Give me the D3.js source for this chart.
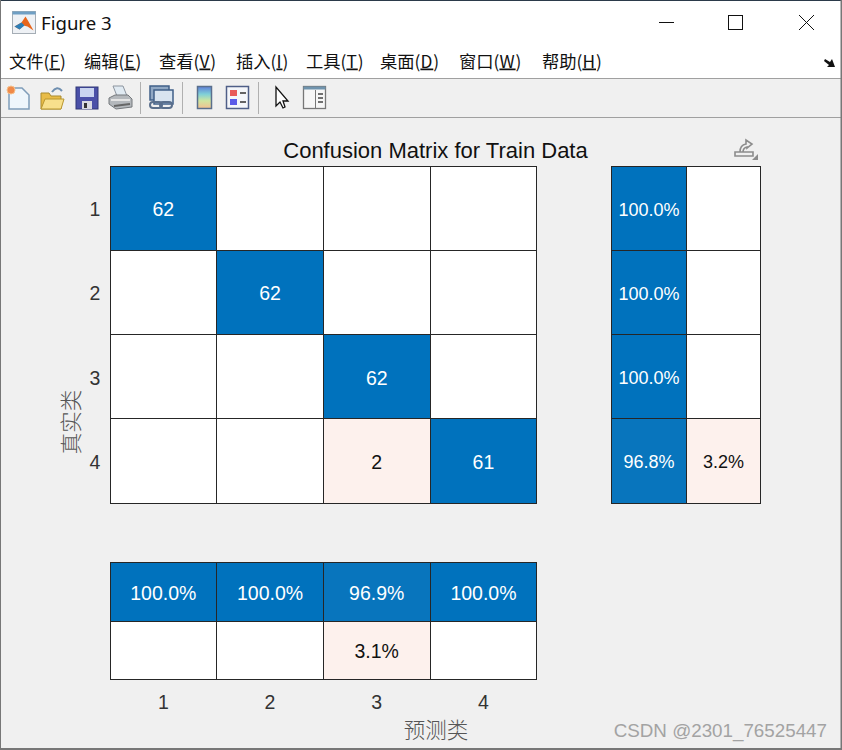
<!DOCTYPE html>
<html>
<head>
<meta charset="utf-8">
<script src="https://cdn.jsdelivr.net/npm/d3@7"></script>
<style>
  html, body { margin: 0; padding: 0; background: #f0f0f0; overflow: hidden; }
  text { font-family: Arial, "Liberation Sans", sans-serif; }
</style>
</head>
<body>
<div id="graph"></div>
<script>
// Data ////////////////////////////////////////////////////////////////
const classes = ["1", "2", "3", "4"];
const counts = [
  [62, 0, 0, 0],
  [0, 62, 0, 0],
  [0, 0, 62, 0],
  [0, 0, 2, 61]
];
const rowCorrect = [100.0, 100.0, 100.0, 96.8];
const rowWrong = [0, 0, 0, 3.2];
const colCorrect = [100.0, 100.0, 96.9, 100.0];
const colWrong = [0, 0, 3.1, 0];
const menuNames = ["文件", "编辑", "查看", "插入", "工具", "桌面", "窗口", "帮助"];
const menuKeys = ["F", "E", "V", "I", "T", "D", "W", "H"];
const menuStarts = [9, 84, 159, 236, 306, 380, 459, 542];
const toolSeparators = [140, 182, 258];

// Constants ////////////////////////////////////////////////////////////////
const svgWidth = 842;
const svgHeight = 750;
const grey = "#f0f0f0";
const blue = "#0072bd";
const wrongColor = "#fdf1ed";
const lineColor = "#262626";
const cjk = '"Noto Sans CJK SC", sans-serif';

const svg = d3.select("#graph")
  .append("svg")
  .attr("width", svgWidth)
  .attr("height", svgHeight)
  .style("display", "block");

// Scales ////////////////////////////////////////////////////////////////
const x = d3.scaleBand().domain(classes).range([110, 536.8]);
const y = d3.scaleBand().domain(classes).range([166, 503]);
const xRow = d3.scaleBand().domain(["correct", "wrong"]).range([611.6, 760.9]);
const yCol = d3.scaleBand().domain(["correct", "wrong"]).range([562.3, 679.8]);

// share of correct -> cell colour, the lower shares are a bit lighter in the picture
const correctColor = d3.scaleLinear().domain([96, 100]).range(["#0a76bd", blue]);

// keeps the 1px grid lines on whole pixels
const snap = v => Math.round(v - 0.5) + 0.5;

drawWindow();
drawChart();

// Draw functions ///////////////////////////////////////////////////////////
function drawChart() {
  const chart = svg.append("g");

  // Main matrix
  const cells = counts.flatMap((row, i) =>
    row.map((value, j) => ({ row: classes[i], col: classes[j], value }))
  );
  drawCells(chart, cells.map(d => ({
    x0: x(d.col), y0: y(d.row), x1: x(d.col) + x.bandwidth(), y1: y(d.row) + y.bandwidth(),
    fill: d.value === 0 ? "#fff" : d.row === d.col ? blue : wrongColor,
    color: d.row === d.col ? "#fff" : "#111",
    label: d.value === 0 ? "" : d.value,
    size: 19.5
  })));

  // Row summary
  const rowCells = classes.flatMap((c, i) => [
    { x0: xRow("correct"), y0: y(c), x1: xRow("correct") + xRow.bandwidth(), y1: y(c) + y.bandwidth(),
      fill: correctColor(rowCorrect[i]), color: "#fff", label: rowCorrect[i].toFixed(1) + "%", size: 18 },
    { x0: xRow("wrong"), y0: y(c), x1: xRow("wrong") + xRow.bandwidth(), y1: y(c) + y.bandwidth(),
      fill: rowWrong[i] ? wrongColor : "#fff", color: "#111",
      label: rowWrong[i] ? rowWrong[i].toFixed(1) + "%" : "", size: 18 }
  ]);
  drawCells(chart, rowCells);

  // Column summary
  const colCells = classes.flatMap((c, i) => [
    { x0: x(c), y0: yCol("correct"), x1: x(c) + x.bandwidth(), y1: yCol("correct") + yCol.bandwidth(),
      fill: correctColor(colCorrect[i]), color: "#fff", label: colCorrect[i].toFixed(1) + "%", size: 19.5 },
    { x0: x(c), y0: yCol("wrong"), x1: x(c) + x.bandwidth(), y1: yCol("wrong") + yCol.bandwidth(),
      fill: colWrong[i] ? wrongColor : "#fff", color: "#111",
      label: colWrong[i] ? colWrong[i].toFixed(1) + "%" : "", size: 19.5 }
  ]);
  drawCells(chart, colCells);

  // Tick labels
  chart.selectAll(".yTick")
    .data(classes)
    .join("text")
    .attr("class", "yTick")
    .attr("x", 95)
    .attr("y", d => y(d) + y.bandwidth() / 2 + 1)
    .attr("dy", "0.36em")
    .attr("text-anchor", "middle")
    .style("font-size", "19.5px")
    .style("fill", "#333")
    .text(d => d);

  chart.selectAll(".xTick")
    .data(classes)
    .join("text")
    .attr("class", "xTick")
    .attr("x", d => x(d) + x.bandwidth() / 2)
    .attr("y", 702)
    .attr("dy", "0.36em")
    .attr("text-anchor", "middle")
    .style("font-size", "19.5px")
    .style("fill", "#333")
    .text(d => d);

  // Titles
  chart.append("text")
    .attr("x", 435.5)
    .attr("y", 158)
    .attr("text-anchor", "middle")
    .style("font-size", "22px")
    .style("fill", "#111")
    .text("Confusion Matrix for Train Data");

  chart.append("text")
    .attr("x", 436)
    .attr("y", 738)
    .attr("text-anchor", "middle")
    .style("font-family", cjk)
    .style("font-weight", 300)
    .style("font-size", "21.5px")
    .style("fill", "#555")
    .text("预测类");

  chart.append("text")
    .attr("transform", "translate(79,422) rotate(-90)")
    .attr("text-anchor", "middle")
    .style("font-family", cjk)
    .style("font-weight", 300)
    .style("font-size", "21.5px")
    .style("fill", "#555")
    .text("真实类");

  // Watermark
  svg.append("text")
    .attr("x", 827)
    .attr("y", 737)
    .attr("text-anchor", "end")
    .style("font-size", "18.8px")
    .style("fill", "#a3a3a3")
    .text("CSDN @2301_76525447");

  drawExportIcon(chart);
}

function drawCells(container, data) {
  const cell = container.append("g").selectAll("g").data(data).join("g");

  cell.append("rect")
    .attr("x", d => snap(d.x0))
    .attr("y", d => snap(d.y0))
    .attr("width", d => snap(d.x1) - snap(d.x0))
    .attr("height", d => snap(d.y1) - snap(d.y0))
    .style("fill", d => d.fill)
    .style("stroke", lineColor)
    .style("stroke-width", 1);

  cell.append("text")
    .attr("x", d => (d.x0 + d.x1) / 2)
    .attr("y", d => (d.y0 + d.y1) / 2 + 1)
    .attr("dy", "0.36em")
    .attr("text-anchor", "middle")
    .style("font-size", d => d.size + "px")
    .style("fill", d => d.color)
    .text(d => d.label);
}

function drawWindow() {
  const win = svg.append("g");

  win.append("rect").attr("width", svgWidth).attr("height", svgHeight).style("fill", grey);
  win.append("rect").attr("width", svgWidth).attr("height", 78).style("fill", "#fff");
  win.append("rect").attr("width", svgWidth).attr("height", 1).style("fill", "#2b3a4a");

  [78.5, 117.5].forEach(ly => {
    win.append("line")
      .attr("x1", 0).attr("x2", svgWidth)
      .attr("y1", ly).attr("y2", ly)
      .style("stroke", "#a0a0a0");
  });
  win.append("rect").attr("x", 0).attr("y", 748).attr("width", svgWidth).attr("height", 2).style("fill", "#777");
  win.append("rect").attr("x", 840.5).attr("y", 0).attr("width", 1.5).attr("height", svgHeight).style("fill", "#777");
  win.append("rect").attr("x", 0).attr("y", 0).attr("width", 1).attr("height", svgHeight).style("fill", "#777");

  // Title bar
  drawMatlabLogo(win);
  win.append("text")
    .attr("x", 41).attr("y", 30)
    .style("font-family", '"Noto Sans", "Open Sans", sans-serif')
    .style("font-size", "18.6px")
    .style("fill", "#111")
    .text("Figure 3");

  const stroke1 = s => s.style("stroke", "#111").style("stroke-width", 1).style("fill", "none");
  win.append("line").attr("x1", 659).attr("x2", 674).attr("y1", 22.5).attr("y2", 22.5).call(stroke1);
  win.append("rect").attr("x", 728.5).attr("y", 15.5).attr("width", 14).attr("height", 14).call(stroke1);
  win.append("path").attr("d", "M799 15L814 30M814 15L799 30").call(stroke1);

  // Menu
  const menu = win.selectAll(".menu")
    .data(menuNames)
    .join("text")
    .attr("class", "menu")
    .attr("x", (d, i) => menuStarts[i])
    .attr("y", 67.5)
    .style("font-family", cjk)
    .style("font-size", "17.3px")
    .style("fill", "#111");

  menu.append("tspan").text(d => d + "(");
  menu.append("tspan")
    .style("text-decoration", "underline")
    .style("letter-spacing", "1px")
    .text((d, i) => menuKeys[i]);
  menu.append("tspan").text(")");

  win.append("path")
    .attr("d", "M825 59L830 62L832 59L835 67L827 67L829 65L824 61Z")
    .style("fill", "#111");

  // Toolbar
  toolSeparators.forEach(sx => {
    win.append("line")
      .attr("x1", sx + 0.5).attr("x2", sx + 0.5)
      .attr("y1", 82).attr("y2", 114)
      .style("stroke", "#b0b0b0");
  });
  drawToolIcons(win);
}

function drawMatlabLogo(win) {
  const g = win.append("g").attr("transform", "translate(12.5,11.5)");
  g.append("rect").attr("width", 23).attr("height", 22)
    .style("fill", "#eef1f5").style("stroke", "#a5adb5");
  g.append("rect").attr("width", 23).attr("height", 3).style("fill", "#6f9fc4");
  g.append("path").attr("d", "M2 15L9 11L13 5L16 10L21 19L15 15L11 14L7 18Z").style("fill", "#e8661c");
  g.append("path").attr("d", "M2 15L9 11L12 14L7 18Z").style("fill", "#2d7fb8");
}

function drawToolIcons(win) {
  const ol = "#5a6f8c";

  // New
  const n = win.append("g").attr("transform", "translate(6,85)");
  n.append("path").attr("d", "M3 3H16L23 10V24H3Z").style("fill", "#eef6fc").style("stroke", "#7f9db9").style("stroke-width", 1.5);
  n.append("circle").attr("cx", 5).attr("cy", 5).attr("r", 4).style("fill", "#ef8a4a").style("stroke", "#f6c08a");

  // Open
  const o = win.append("g").attr("transform", "translate(39,85)");
  o.append("path").attr("d", "M2 8H10L12 11H22V24H2Z").style("fill", "#e8bc48").style("stroke", "#a98b2f");
  o.append("path").attr("d", "M2 24L6 14H25L22 24Z").style("fill", "#f8e08c").style("stroke", "#b8962f");
  o.append("path").attr("d", "M13 7Q18 0 23 6").style("fill", "none").style("stroke", "#6f8fb0").style("stroke-width", 2);

  // Save
  const s = win.append("g").attr("transform", "translate(75,85)");
  s.append("rect").attr("x", 1).attr("y", 2).attr("width", 22).attr("height", 22).style("fill", "#4a50a8").style("stroke", "#2f3676");
  s.append("rect").attr("x", 5).attr("y", 3).attr("width", 14).attr("height", 9).style("fill", "#c9d4f0");
  s.append("rect").attr("x", 7).attr("y", 16).attr("width", 10).attr("height", 8).style("fill", "#d8dae2");
  s.append("rect").attr("x", 9).attr("y", 18).attr("width", 3).attr("height", 5).style("fill", "#333");

  // Print
  const p = win.append("g").attr("transform", "translate(108,85)");
  p.append("path").attr("d", "M5 1H15L19 11H9Z").style("fill", "#e0eaf2").style("stroke", "#8c949e");
  p.append("path").attr("d", "M1 13L7 10H20L24 14V22L8 24L1 19Z").style("fill", "#b4b8bc").style("stroke", "#74787c");
  p.append("path").attr("d", "M3 15L22 15").style("stroke", "#e4e4e4").style("stroke-width", 2);
  p.append("path").attr("d", "M6 21L22 19").style("stroke", "#666").style("stroke-width", 2);

  // Link
  const l = win.append("g").attr("transform", "translate(149,84)");
  l.append("rect").attr("x", 1).attr("y", 2).attr("width", 19).attr("height", 14).style("fill", "#90a8c4").style("stroke", "#3f5f88").style("stroke-width", 1.5);
  l.append("rect").attr("x", 5).attr("y", 6).attr("width", 19).attr("height", 14).style("fill", "#d8e4f0").style("stroke", "#3f5f88").style("stroke-width", 1.5);
  l.append("rect").attr("x", 1).attr("y", 18).attr("width", 12).attr("height", 6).attr("rx", 3).style("fill", "none").style("stroke", ol).style("stroke-width", 2);
  l.append("rect").attr("x", 11).attr("y", 18).attr("width", 12).attr("height", 6).attr("rx", 3).style("fill", "none").style("stroke", ol).style("stroke-width", 2);

  // Colorbar
  const grad = svg.append("defs").append("linearGradient")
    .attr("id", "cbar").attr("x1", 0).attr("x2", 0).attr("y1", 0).attr("y2", 1);
  [["0%", "#5f7fd8"], ["35%", "#7fd0d8"], ["65%", "#cfe6a0"], ["100%", "#f4c090"]].forEach(st => {
    grad.append("stop").attr("offset", st[0]).attr("stop-color", st[1]);
  });
  win.append("rect").attr("x", 197.5).attr("y", 86.5).attr("width", 14).attr("height", 22)
    .style("fill", "url(#cbar)").style("stroke", ol).style("stroke-width", 1.5);

  // Legend
  const g = win.append("g").attr("transform", "translate(226,85)");
  g.append("rect").attr("x", 0.5).attr("y", 1.5).attr("width", 22).attr("height", 22).style("fill", "#f4f6fa").style("stroke", "#4f5f88").style("stroke-width", 1.5);
  g.append("rect").attr("x", 4).attr("y", 5).attr("width", 7).attr("height", 6).style("fill", "#e85a5a");
  g.append("rect").attr("x", 4).attr("y", 14).attr("width", 7).attr("height", 6).style("fill", "#5a5ae8");
  g.append("path").attr("d", "M14 8H20M14 17H20").style("stroke", "#333").style("stroke-width", 1.5);

  // Pointer
  win.append("path")
    .attr("d", "M276 87V106L280 102L283 108L285 107L283 101H288Z")
    .style("fill", "#fff").style("stroke", "#111").style("stroke-width", 1.3);

  // Property panel
  const t = win.append("g").attr("transform", "translate(303,85)");
  t.append("rect").attr("x", 0.5).attr("y", 1.5).attr("width", 22).attr("height", 22).style("fill", "#f6f6f6").style("stroke", "#777").style("stroke-width", 1.3);
  t.append("rect").attr("x", 0.5).attr("y", 1.5).attr("width", 22).attr("height", 3).style("fill", "#6f93ad");
  t.append("line").attr("x1", 12.5).attr("x2", 12.5).attr("y1", 5).attr("y2", 23).style("stroke", "#777");
  t.append("path").attr("d", "M15 9H20M15 13H20M15 17H20").style("stroke", "#444").style("stroke-width", 1.6);
}

function drawExportIcon(container) {
  const g = container.append("g")
    .attr("transform", "translate(734,139)")
    .style("fill", "none")
    .style("stroke", "#8c8c8c")
    .style("stroke-width", 1.6);
  g.append("path").attr("d", "M1 17V13H19V17Z");
  g.append("path").attr("d", "M6 13Q6 6 12 5V1L18 5L13 9V8Q9 9 9 13");
  g.append("path").attr("d", "M18 21H24V15Z").style("fill", "#8c8c8c").style("stroke", "none");
}
</script>
</body>
</html>
